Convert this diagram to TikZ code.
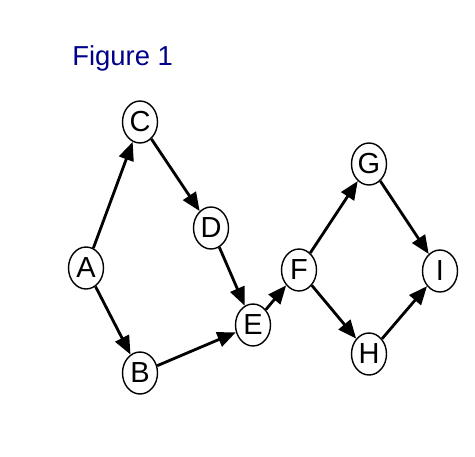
\documentclass[tikz,border=0pt]{standalone}
\usepackage{fontspec}
\setmainfont{Liberation Sans}
\usepackage{tikz}
\usetikzlibrary{shapes,arrows.meta,positioning}
\usepackage{xcolor}
\definecolor{titleblue}{RGB}{0,0,139}
\tikzset{
    vnode/.style={draw, ellipse, fill=white, line width=0.8pt,
                  minimum width=35*0.569pt, minimum height=42*0.569pt,
                  inner sep=0pt, font=\fontsize{16.5}{17}\selectfont},
    figtitle/.style={inner sep=0pt, anchor=base west, text=titleblue,
                     font=\fontsize{15.6}{16}\selectfont},
}

\begin{document}
\begin{tikzpicture}[
    x=0.02cm, y=-0.02cm,
    arr/.style={-{Triangle[length=10.5pt, width=8.6pt]}, line width=1.6pt, black}
]
    \useasboundingbox (0,0) rectangle (475,456);
    \node[figtitle] (title) at (72,66) {Figure 1};
    \node[vnode] (A) at (86,268) {A};
    \node[vnode] (B) at (140,373) {B};
    \node[vnode] (C) at (140,122) {C};
    \node[vnode] (D) at (211,228) {D};
    \node[vnode] (E) at (253,325) {E};
    \node[vnode] (F) at (299,270) {F};
    \node[vnode] (G) at (369,164) {G};
    \node[vnode] (H) at (369,354) {H};
    \node[vnode] (I) at (440,271) {I};
    \draw[arr] (A) -- (C);
    \draw[arr] (A) -- (B);
    \draw[arr] (C) -- (D);
    \draw[arr] (D) -- (E);
    \draw[arr] (B) -- (E);
    \draw[arr] (E) -- (F);
    \draw[arr] (F) -- (G);
    \draw[arr] (F) -- (H);
    \draw[arr] (G) -- (I);
    \draw[arr] (H) -- (I);
\end{tikzpicture}
\end{document}
